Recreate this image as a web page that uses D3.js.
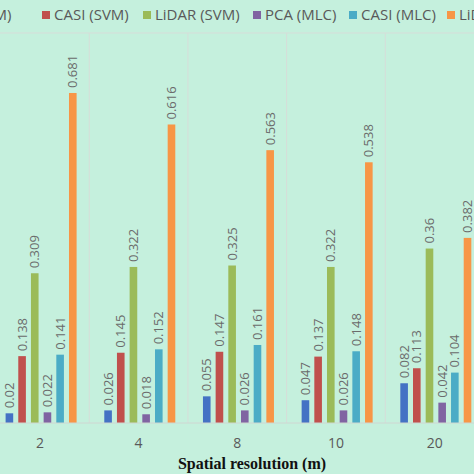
<!DOCTYPE html>
<html><head><meta charset="utf-8">
<script src="https://cdn.jsdelivr.net/npm/d3@7"></script>
<style>body{margin:0;background:#c5f0dd}</style>
</head><body><svg id="canvas"></svg>
<script>
var categories = ["2", "4", "8", "10", "20"];
var seriesNames = ["PCA (SVM)", "CASI (SVM)", "LiDAR (SVM)", "PCA (MLC)", "CASI (MLC)", "LiDAR (MLC)"];
var colors = ["#4472c4", "#c0504d", "#9bbb59", "#8064a2", "#4bacc6", "#f79646"];
var pcaSvm = [0.02, 0.026, 0.055, 0.047, 0.082];
var casiSvm = [0.138, 0.145, 0.147, 0.137, 0.113];
var lidarSvm = [0.309, 0.322, 0.325, 0.322, 0.36];
var pcaMlc = [0.022, 0.018, 0.026, 0.026, 0.042];
var casiMlc = [0.141, 0.152, 0.161, 0.148, 0.104];
var lidarMlc = [0.681, 0.616, 0.563, 0.538, 0.382];
var series = [pcaSvm, casiSvm, lidarSvm, pcaMlc, casiMlc, lidarMlc];

var W = 474, H = 474;
var svg = d3.select("#canvas").attr("width", W).attr("height", H);
svg.append("rect").attr("width", W).attr("height", H).attr("fill", "#c5f0dd");

var baseY = 423, topY = 33;
var x0 = d3.scaleBand().domain(categories).range([-9.4, 484]).padding(0);
var x1 = d3.scaleBand().domain(d3.range(6)).range([15, 86]).paddingInner(0.4);
var y = d3.scaleLinear().domain([0, 0.8]).range([baseY, baseY - 0.8 * 484.6]);

// gridlines
svg.append("line").attr("x1", 0).attr("x2", W).attr("y1", topY).attr("y2", topY).attr("stroke", "#d6ddd9");
categories.slice(1).forEach(function(c) {
    svg.append("line").attr("x1", x0(c)).attr("x2", x0(c)).attr("y1", topY).attr("y2", baseY)
        .attr("stroke", "#d6ddd9");
});

var groups = svg.selectAll(".grp").data(categories).enter().append("g")
    .attr("transform", function(d) { return "translate(" + x0(d) + ",0)"; });

series.forEach(function(vals, s) {
    groups.append("rect")
        .attr("x", x1(s)).attr("width", x1.bandwidth())
        .attr("y", function(d, i) { return y(vals[i]); })
        .attr("height", function(d, i) { return baseY - y(vals[i]); })
        .attr("fill", colors[s]);
    groups.append("text")
        .attr("transform", function(d, i) {
            return "translate(" + (x1(s) + x1.bandwidth() / 2 + 4.5) + "," + (y(vals[i]) - 5) + ") rotate(-90)";
        })
        .attr("font-family", "Open Sans, sans-serif").attr("font-size", 13).attr("fill", "#6b6b6b")
        .text(function(d, i) { return vals[i]; });
});

svg.append("line").attr("x1", 0).attr("x2", W).attr("y1", baseY).attr("y2", baseY).attr("stroke", "#cfd6d2");

svg.selectAll(".tick").data(categories).enter().append("text")
    .attr("x", function(d) { return x0(d) + x0.bandwidth() / 2; }).attr("y", 448)
    .attr("text-anchor", "middle").attr("font-family", "Open Sans, sans-serif").attr("font-size", 14)
    .attr("fill", "#595959").text(function(d) { return d; });

svg.append("text").attr("x", 252).attr("y", 469).attr("text-anchor", "middle")
    .attr("font-family", "Liberation Serif, serif").attr("font-weight", "bold").attr("font-size", 16)
    .attr("fill", "#111").text("Spatial resolution (m)");

// legend
var legendX = [-72, 42, 143, 253, 349, 447];
seriesNames.forEach(function(n, i) {
    svg.append("rect").attr("x", legendX[i]).attr("y", 11).attr("width", 8).attr("height", 8).attr("fill", colors[i]);
    svg.append("text").attr("x", legendX[i] + 12).attr("y", 20)
        .attr("font-family", "Open Sans, sans-serif").attr("font-size", 15).attr("fill", "#595959").text(n);
});
</script></body></html>
